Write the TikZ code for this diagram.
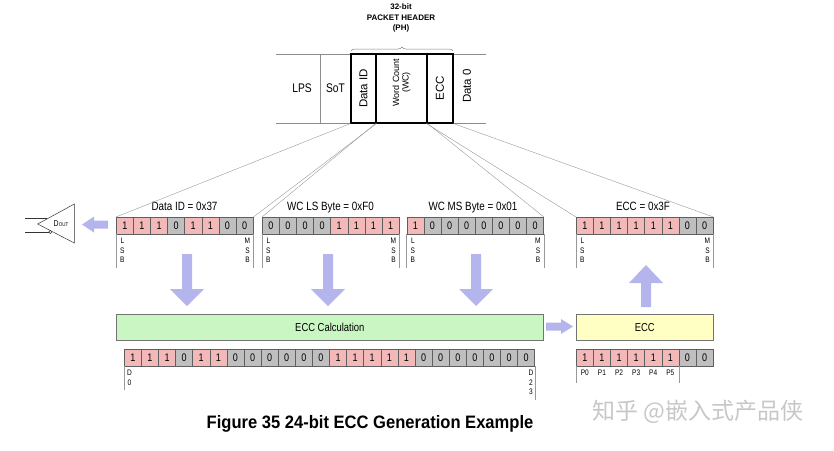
\documentclass[tikz,border=0pt]{standalone}
\usepackage{fontspec}
\setmainfont{Liberation Sans}
\newfontfamily\narrowsf{Liberation Sans}[FakeStretch=0.82]
\newfontfamily\capfont{Liberation Sans}[FakeStretch=0.92]
\newfontfamily\cjk{Noto Sans CJK SC}
\usetikzlibrary{decorations.pathreplacing}

\definecolor{bitone}{RGB}{243,185,185}
\definecolor{bitzero}{RGB}{191,191,191}
\definecolor{bitline}{RGB}{95,95,95}
\definecolor{arrowfill}{RGB}{181,181,238}
\definecolor{calcfill}{RGB}{201,246,195}
\definecolor{eccfill}{RGB}{255,255,196}

\tikzset{
  bitbox/.style={draw=bitline, line width=0.6pt, minimum width=17.1pt, minimum height=16.5pt,
    inner sep=0pt, anchor=north west, font=\narrowsf\fontsize{11}{11}\selectfont},
  bit1/.style={bitbox, fill=bitone},
  bit0/.style={bitbox, fill=bitzero},
  fan/.style={draw=black!40, line width=0.4pt},
  tick/.style={draw=black!40, line width=0.4pt},
  headline/.style={draw=black!45, line width=0.5pt},
  hfield/.style={draw=black, line width=1.1pt, minimum height=69pt, inner sep=0pt},
  htext/.style={font=\narrowsf\fontsize{12.5}{12.5}\selectfont},
  vtext/.style={rotate=90, font=\fontsize{11.5}{11.5}\selectfont, align=center},
  rowlabel/.style={font=\narrowsf\fontsize{12}{12}\selectfont, anchor=base},
  sidelabel/.style={font=\narrowsf\fontsize{8}{9.7}\selectfont, align=center, inner sep=0pt},
  calcbox/.style={draw=black!55, line width=0.6pt, anchor=north west, minimum height=26pt,
    font=\narrowsf\fontsize{11.5}{11.5}\selectfont},
  bigarrow/.style={fill=arrowfill},
  drv/.style={draw=black!80, line width=0.5pt},
}

% one row of bits, named #1 1..n, top left corner at (#2,#3)
\newcommand{\bitrow}[4]{%
  \foreach \b [count=\i] in {#4}
    \node[bit\b] (#1\i) at ({#2+(\i-1)*17.1},#3) {\b};
}
% block arrows
\newcommand{\downblock}[3]{%
  \fill[bigarrow] (#1-5,#2) -- (#1+5,#2) -- (#1+5,#3-17) -- (#1+17,#3-17) -- (#1,#3)
    -- (#1-17,#3-17) -- (#1-5,#3-17) -- cycle;
}
\newcommand{\upblock}[3]{%
  \fill[bigarrow] (#1-5,#2) -- (#1+5,#2) -- (#1+5,#3+18) -- (#1+17,#3+18) -- (#1,#3)
    -- (#1-17,#3+18) -- (#1-5,#3+18) -- cycle;
}

\begin{document}
\begin{tikzpicture}[x=1pt, y=-1pt]
  \useasboundingbox (0,0) rectangle (834,450);

  % packet header
  \node[font=\bfseries\fontsize{8}{10.5}\selectfont, align=center] (ph) at (401,18) {32-bit\\PACKET HEADER\\(PH)};
  \draw[headline] (276,54) -- (486,54) (276,123) -- (486,123) (320,54) -- (320,123);
  \node[hfield, minimum width=25pt] (hid) at (363.5,88.5) {};
  \node[hfield, minimum width=51pt] (hwc) at (401.5,88.5) {};
  \node[hfield, minimum width=26pt] (hecc) at (440,88.5) {};
  \node[htext] (lps) at (302,88.5) {LPS};
  \node[htext] (sot) at (335.5,88.5) {SoT};
  \node[vtext] at (hid) {Data ID};
  \node[vtext, font=\fontsize{9}{9.5}\selectfont] at ([yshift=6]hwc) {Word Count\\(WC)};
  \node[vtext] at (hecc) {ECC};
  \node[vtext] (hdata) at (467,86) {Data 0};
  \draw[decorate, decoration={brace, amplitude=4pt}, black!50, line width=0.5pt]
    (351,51) -- (453,51);

  % bytes of the header
  \bitrow{id}{116}{217}{1,1,1,0,1,1,0,0}
  \bitrow{ls}{262}{217}{0,0,0,0,1,1,1,1}
  \bitrow{ms}{406.5}{217}{1,0,0,0,0,0,0,0}
  \bitrow{ecc}{576}{217}{1,1,1,1,1,1,0,0}
  \node[rowlabel] at (184.5,210) {Data ID = 0x37};
  \node[rowlabel] at (330.5,210) {WC LS Byte = 0xF0};
  \node[rowlabel] at (473,210) {WC MS Byte = 0x01};
  \node[rowlabel] at (643,210) {ECC = 0x3F};

  \draw[fan] (hid.south west) -- (id1.north west);
  \draw[fan] (hid.south east) -- (id8.north east);
  \draw[fan] (hwc.south west) -- (ls1.north west);
  \draw[fan] (hwc.south east) -- (ms8.north east);
  \draw[fan] (hecc.south west) -- (ecc1.north west);
  \draw[fan] (hecc.south east) -- (ecc8.north east);

  % LSB / MSB marks
  \foreach \r in {id,ls,ms,ecc} {
    \draw[tick] (\r1.south west) -- ++(0,34);
    \draw[tick] (\r8.south east) -- ++(0,34);
    \node[sidelabel, anchor=north west] at ([shift={(4,3.5)}]\r1.south west) {L\\S\\B};
    \node[sidelabel, anchor=north east] at ([shift={(-3,3.5)}]\r8.south east) {M\\S\\B};
  }

  % output driver
  \draw[drv] (74.3,204) -- (37.7,224) -- (74.3,243) -- cycle;
  \draw[drv] (25,218.7) -- (47.4,218.7);
  \draw[drv] (25,232) -- (48.6,232);
  \draw[drv] (50.3,232) circle (1.6);
  \node[font=\narrowsf\fontsize{8.5}{8.5}\selectfont, inner sep=0pt] (dout) at (61,223.5)
    {D\raisebox{-0.6pt}{\fontsize{5.5}{5.5}\selectfont OUT}};
  \fill[bigarrow] (108,220.5) -- (94,220.5) -- (94,216.5) -- (82,224.5) -- (94,232.5)
    -- (94,228.5) -- (108,228.5) -- cycle;

  % arrows into and out of the calculation
  \downblock{187}{254}{306}
  \downblock{328}{254}{306}
  \downblock{476}{254}{306}
  \upblock{646}{307}{265}

  \node[calcbox, fill=calcfill, minimum width=427pt] (calc) at (116,314) {ECC Calculation};
  \node[calcbox, fill=eccfill, minimum width=137pt] (ecc) at (576,314) {ECC};
  \fill[bigarrow] (546,322.5) -- (561,322.5) -- (561,319) -- (573,326.5) -- (561,334)
    -- (561,330.5) -- (546,330.5) -- cycle;

  % 24 data bits and parity bits
  \bitrow{d}{124}{349}{1,1,1,0,1,1,0,0,0,0,0,0,1,1,1,1,1,0,0,0,0,0,0,0}
  \bitrow{p}{576}{349}{1,1,1,1,1,1,0,0}
  \draw[tick] (d1.south west) -- ++(0,24);
  \node[sidelabel, anchor=north west] at ([shift={(3,3.5)}]d1.south west) {D\\0};
  \draw[tick] (d24.south east) -- ++(0,34);
  \node[sidelabel, anchor=north east] at ([shift={(-1.5,3.5)}]d24.south east) {D\\2\\3};
  \draw[tick] (p1.south west) -- ++(0,17);
  \draw[tick] (p6.south east) -- ++(0,17);
  \foreach \k in {0,...,5} {
    \pgfmathtruncatemacro{\n}{\k+1}
    \node[sidelabel] at ([yshift=-7]p\n.south) {P\k};
  }

  % caption and mark
  \node[font=\capfont\bfseries\fontsize{18}{18}\selectfont, anchor=base] (caption) at (370,428)
    {Figure 35 24-bit ECC Generation Example};
  \node[font=\cjk\fontsize{23}{23}\selectfont, text=black!22] (mark) at (698,412)
    {知乎 @嵌入式产品侠};
\end{tikzpicture}
\end{document}
